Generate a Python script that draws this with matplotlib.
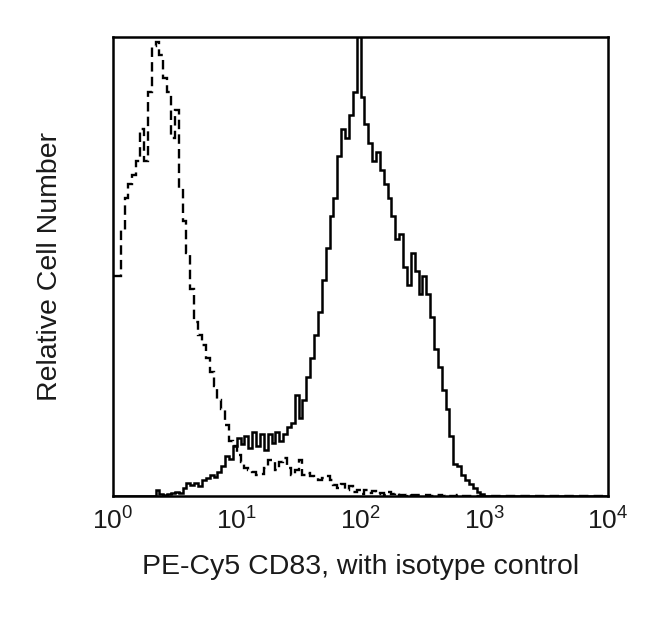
import numpy as np
import matplotlib
matplotlib.use("Agg")
import matplotlib.pyplot as plt

# 128 log-spaced channels spanning 10^0 .. 10^4
n_channels = 128
decades = 4

isotype = [
    48, 48, 58, 65, 68, 70, 73, 80, 73, 88,
    98, 99, 96, 91, 88, 78, 84, 67, 60, 53,
    45, 38, 35, 33, 30, 27, 24, 21, 19, 15.5,
    12, 11, 9, 7.4, 6, 5.7, 5.2, 4.6, 4.8, 6,
    7.8, 7.4, 5.7, 7.4, 8.3, 6, 4.6, 5.7, 7.8, 4.6,
    5, 4.4, 3.9, 3.5, 3.9, 4.4, 3.5, 2.4, 1.7, 2.6,
    1.3, 2.2, 0.9, 1.3, 0.4, 1.3, 0.6, 1.1, 0.4, 0.6,
    0.3, 0.9, 0.4, 0.6, 0.3, 0.2, 0.4, 0.2, 0.3, 0.2,
    0.2, 0.3, 0.1, 0.2, 0.2, 0.1, 0.2, 0.1, 0.1, 0.2,
    0.1, 0.1, 0.1, 0.1, 0.1, 0.1,
] + [0] * 32

cd83 = [
    0, 0, 0, 0, 0, 0, 0, 0, 0, 0,
    0, 1.3, 0.4, 0.2, 0.4, 0.6, 0.9, 0.6, 1.7, 2.8,
    2.4, 2.8, 2.2, 3.5, 3.9, 4.6, 4.1, 5.2, 6.5, 8.7,
    8, 11, 12.6, 11.3, 13, 10.5, 14, 11, 13.5, 10,
    13.5, 11.5, 14, 12, 13.5, 15, 16, 22, 17, 21,
    26, 30, 35, 40, 47, 54, 61, 65, 74, 80,
    78, 83, 88, 105, 87, 81, 77, 73, 75, 71,
    68, 65, 61, 56, 57, 50, 46, 53, 49, 44,
    48, 44, 39, 32, 28, 23, 19, 13, 7, 6.5,
    4.5, 3.5, 2.6, 1.7, 0.9, 0.4,
] + [0] * 32

tick_labels = [r"$10^{0}$", r"$10^{1}$", r"$10^{2}$", r"$10^{3}$", r"$10^{4}$"]
tick_values = [1, 10, 100, 1000, 10000]

edges = 10 ** (np.arange(n_channels + 1) * decades / n_channels)

plt.rcParams['font.family'] = ['Liberation Sans', 'DejaVu Sans']
plt.rcParams['mathtext.fontset'] = 'custom'
plt.rcParams['mathtext.rm'] = 'Liberation Sans'
plt.rcParams['mathtext.it'] = 'Liberation Sans'

fig = plt.figure(figsize=(6.5, 6.22), dpi=100)
ax = fig.add_axes([113 / 650, 1 - 496 / 622, (608 - 113) / 650, (496 - 37) / 622])

ax.stairs(isotype, edges, color="black", lw=1.7, linestyle=(0, (4, 2.2)), baseline=None)
ax.stairs(cd83, edges, color="black", lw=1.8, baseline=None)

ax.set_xscale("log")
ax.set_xlim(1, 10000)
ax.set_ylim(0, 100)
ax.set_xticks(tick_values)
ax.set_xticklabels(tick_labels)
ax.xaxis.set_minor_locator(matplotlib.ticker.NullLocator())
ax.set_yticks([])
ax.tick_params(axis="x", length=0, pad=8, labelsize=19, colors="#1a1a1a")
for s in ax.spines.values():
    s.set_linewidth(1.8)

ax.set_xlabel("PE-Cy5 CD83, with isotype control", fontsize=20.5, labelpad=14, color="#1a1a1a")
ax.set_ylabel("Relative Cell Number", fontsize=20.5, labelpad=36, color="#1a1a1a")

fig.savefig("out.png", dpi=100)
